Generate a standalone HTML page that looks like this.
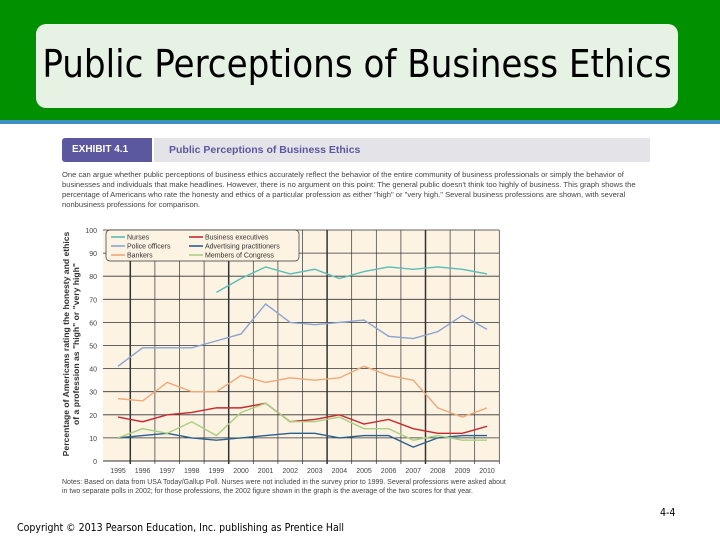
<!DOCTYPE html>
<html><head><meta charset="utf-8">
<style>
body{margin:0;width:720px;height:540px;position:relative;background:#fff;font-family:"Liberation Sans",sans-serif;overflow:hidden}
.abs{position:absolute}
</style></head><body>
<div class="abs" style="left:0;top:0;width:720px;height:120px;background:#009000"></div>
<div class="abs" style="left:36px;top:24px;width:642px;height:84px;background:#e6f3e4;border-radius:10px"></div>
<div class="abs" style="left:36px;top:42px;width:642px;text-align:center;font-size:38px;font-family:'DejaVu Sans Condensed','Liberation Sans Narrow','Liberation Sans',sans-serif;color:#000">Public Perceptions of Business Ethics</div>
<div class="abs" style="left:0;top:120px;width:720px;height:4px;background:#3f8fc0"></div>
<div class="abs" style="left:62px;top:138px;width:90px;height:24px;background:#5b58a0;color:#fff;font-weight:bold;font-size:10px;line-height:24px;text-indent:10px;border-radius:3px 0 0 3px">EXHIBIT 4.1</div>
<div class="abs" style="left:154px;top:138px;width:496px;height:24px;background:#e3e3e8;color:#5b58a0;font-weight:bold;font-size:10.5px;line-height:24px;text-indent:15px">Public Perceptions of Business Ethics</div>
<div class="abs" style="left:62px;top:170px;width:580px;font-size:7.6px;line-height:10px;color:#444">One can argue whether public perceptions of business ethics accurately reflect the behavior of the entire community of business professionals or simply the behavior of businesses and individuals that make headlines. However, there is no argument on this point: The general public doesn't think too highly of business. This graph shows the percentage of Americans who rate the honesty and ethics of a particular profession as either "high" or "very high." Several business professions are shown, with several nonbusiness professions for comparison.</div>
<svg class="abs" style="left:0;top:0" width="720" height="540" id="chart"></svg>
<div class="abs" style="left:62px;top:479px;width:450px;font-size:7px;line-height:8.5px;color:#444">Notes: Based on data from USA Today/Gallup Poll. Nurses were not included in the survey prior to 1999. Several professions were asked about in two separate polls in 2002; for those professions, the 2002 figure shown in the graph is the average of the two scores for that year.</div>
<div class="abs" style="left:17px;top:522px;font-size:10.5px;font-family:'DejaVu Sans Condensed','Liberation Sans',sans-serif;color:#000">Copyright © 2013 Pearson Education, Inc. publishing as Prentice Hall</div>
<div class="abs" style="left:660px;top:507px;font-size:10.5px;font-family:'DejaVu Sans Condensed','Liberation Sans',sans-serif;color:#000">4-4</div>
<script>
const years=[1995,1996,1997,1998,1999,2000,2001,2002,2003,2004,2005,2006,2007,2008,2009,2010];
const yTicks=[0,10,20,30,40,50,60,70,80,90,100];
const nurses=[null,null,null,null,73,79,84,81,83,79,82,84,83,84,83,81];
const police=[41,49,49,49,52,55,68,60,59,60,61,54,53,56,63,57];
const bankers=[27,26,34,30,30,37,34,36,35,36,41,37,35,23,19,23];
const executives=[19,17,20,21,23,23,25,17,18,20,16,18,14,12,12,15];
const advertising=[10,11,12,10,9,10,11,12,12,10,11,11,6,10,11,11];
const congress=[10,14,12,17,11,21,25,17,17,19,14,14,9,11,9,9];
const svg=document.getElementById('chart');
const NS='http://www.w3.org/2000/svg';
const L=103,R=499,T=230,B=461;
const xs=i=>118+i*(487-118)/(years.length-1);
const ys=v=>B-(v/100)*(B-T);
function mk(t,a,p){const e=document.createElementNS(NS,t);for(const k in a)e.setAttribute(k,a[k]);(p||svg).appendChild(e);return e;}
let bg=mk('rect',{x:L,y:T,width:R-L,height:B-T,fill:'#fcf3e3'});


yTicks.forEach(v=>{
 let g=mk('line',{x1:L,x2:R,y1:ys(v),y2:ys(v),stroke:'#333','stroke-width':v===0?1:0.8});
 
 
 let t=mk('text',{x:L-6,y:ys(v)+3,'font-size':7,'text-anchor':'end',fill:'#444'});t.textContent=v;
 
 
});
years.forEach((y,i)=>{
 let g=mk('line',{x1:xs(i)+12.3,x2:xs(i)+12.3,y1:T,y2:B+3,stroke:'#333','stroke-width':i%4===0?1.5:0.7});
 
 
 let t=mk('text',{x:xs(i),y:B+12,'font-size':7,'text-anchor':'middle',fill:'#444'});t.textContent=y;
 
 
});
let yl=mk('text',{transform:'translate(69,344) rotate(-90)','font-size':8.6,'font-weight':'bold','text-anchor':'middle',fill:'#333'});


let ts1=mk('tspan',{x:0,y:0},yl);ts1.textContent='Percentage of Americans rating the honesty and ethics';
let ts2=mk('tspan',{x:0,y:10},yl);ts2.textContent='of a profession as "high" or "very high"';
const series=[['nurses',nurses,'#5bbcb6','Nurses'],['police',police,'#8ba3d0','Police officers'],['bankers',bankers,'#f0a877','Bankers'],['executives',executives,'#c8282e','Business executives'],['advertising',advertising,'#2a5f8e','Advertising practitioners'],['congress',congress,'#a8cf80','Members of Congress']];
series.forEach(([n,d,c])=>{
 let pts=[];d.forEach((v,i)=>{if(v!==null)pts.push(xs(i)+','+ys(v));});
 let p=mk('polyline',{points:pts.join(' '),fill:'none',stroke:c,'stroke-width':1.4});
 
 
});
let lb=mk('rect',{x:106,y:230,width:193,height:31,rx:4,fill:'#fcf3e3',stroke:'#333','stroke-width':0.7});


series.forEach(([n,d,c,lab],k)=>{
 const col=Math.floor(k/3),row=k%3;
 const x=111+col*78,y=237+row*9;
 let l=mk('line',{x1:x,x2:x+14,y1:y,y2:y,stroke:c,'stroke-width':1.6});
 
 
 let t=mk('text',{x:x+16,y:y+2.5,'font-size':7,fill:'#333'});t.textContent=lab;
 
 
});
</script>
</body></html>
